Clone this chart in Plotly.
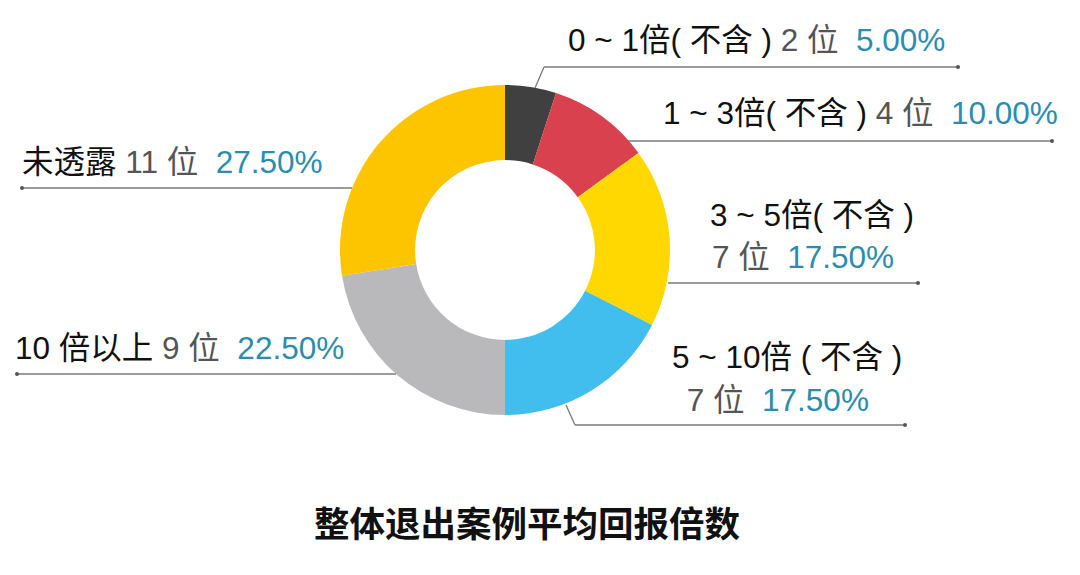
import plotly.graph_objects as go

categories = ["0 ~ 1倍( 不含 )", "1 ~ 3倍( 不含 )", "3 ~ 5倍( 不含 )", "5 ~ 10倍 ( 不含 )", "10 倍以上", "未透露"]
counts = [2, 4, 7, 7, 9, 11]
percents = ["5.00%", "10.00%", "17.50%", "17.50%", "22.50%", "27.50%"]
colors = ["#404040", "#d9414e", "#fed800", "#41bdee", "#b9b9bb", "#fdc500"]

W, H = 1080, 575
OFF = 8  # default page body margin
FONT = "Liberation Sans, Noto Sans CJK SC"
BLUE = "#2a8db0"
GRAY = "#555555"

def px(x):
    return (x - OFF) / W

def py(y):
    return 1 - (y - OFF) / H

fig = go.Figure()
fig.add_trace(go.Pie(
    labels=categories, values=counts, hole=0.545, sort=False,
    direction="clockwise", rotation=0,
    marker=dict(colors=colors, line=dict(width=0)),
    textinfo="none", hoverinfo="label+value+percent", showlegend=False,
    domain=dict(x=[px(340), px(670)], y=[py(415), py(85)]),
))

def lbl(i):
    cat = f"<span style='color:#111111'>{categories[i]}</span>"
    cnt = f"<span style='color:{GRAY}'>{counts[i]} 位</span>"
    pct = f"<span style='color:{BLUE}'>{percents[i]}</span>"
    return cat, cnt, pct

ann = []
def add_text(text, x, y, size=31.5):
    ann.append(dict(text=text, x=px(x), y=py(y), xref="paper", yref="paper",
                    xanchor="left", yanchor="middle", showarrow=False,
                    font=dict(family=FONT, size=size, color="#111111")))

c, n, p = lbl(0); add_text(f"{c} {n}  {p}", 566, 40)
c, n, p = lbl(1); add_text(f"{c} {n}  {p}", 661, 113)
c, n, p = lbl(2); add_text(c, 708, 215); add_text(f"{n}  {p}", 710, 257)
c, n, p = lbl(3); add_text(c, 670, 357); add_text(f" {n}  {p}", 676, 400)
c, n, p = lbl(4); add_text(f"{c} {n}  {p}", 13, 348)
c, n, p = lbl(5); add_text(f"{c} {n}  {p}", 20, 162)

ann.append(dict(text="<b>整体退出案例平均回报倍数</b>", x=px(527), y=py(521), xref="paper", yref="paper",
                xanchor="center", yanchor="middle", showarrow=False,
                font=dict(family="Noto Sans CJK SC", size=35.5, color="#111111")))

shapes = []
LC = "#7a7a7a"
def seg(x0, y0, x1, y1):
    shapes.append(dict(type="line", xref="paper", yref="paper", x0=px(x0), y0=py(y0), x1=px(x1), y1=py(y1),
                       line=dict(color=LC, width=1.3)))
def dot(x, y):
    r = 2
    shapes.append(dict(type="circle", xref="paper", yref="paper", x0=px(x - r), y0=py(y - r), x1=px(x + r), y1=py(y + r),
                       fillcolor="#555555", line=dict(width=0)))

seg(535, 88, 544, 67); seg(544, 67, 958, 67); dot(958, 67)
seg(628, 141, 1052, 141); dot(1052, 141)
seg(668, 283, 918, 283); dot(918, 283)
seg(566, 405, 575, 425); seg(575, 425, 905, 425); dot(905, 425)
seg(22, 188, 352, 188); dot(22, 188)
seg(17, 374, 396, 374); dot(17, 374)

fig.update_layout(
    width=W, height=H, margin=dict(l=0, r=0, t=0, b=0),
    paper_bgcolor="white", plot_bgcolor="white",
    annotations=ann, shapes=shapes,
)
fig.write_html("out.html")
